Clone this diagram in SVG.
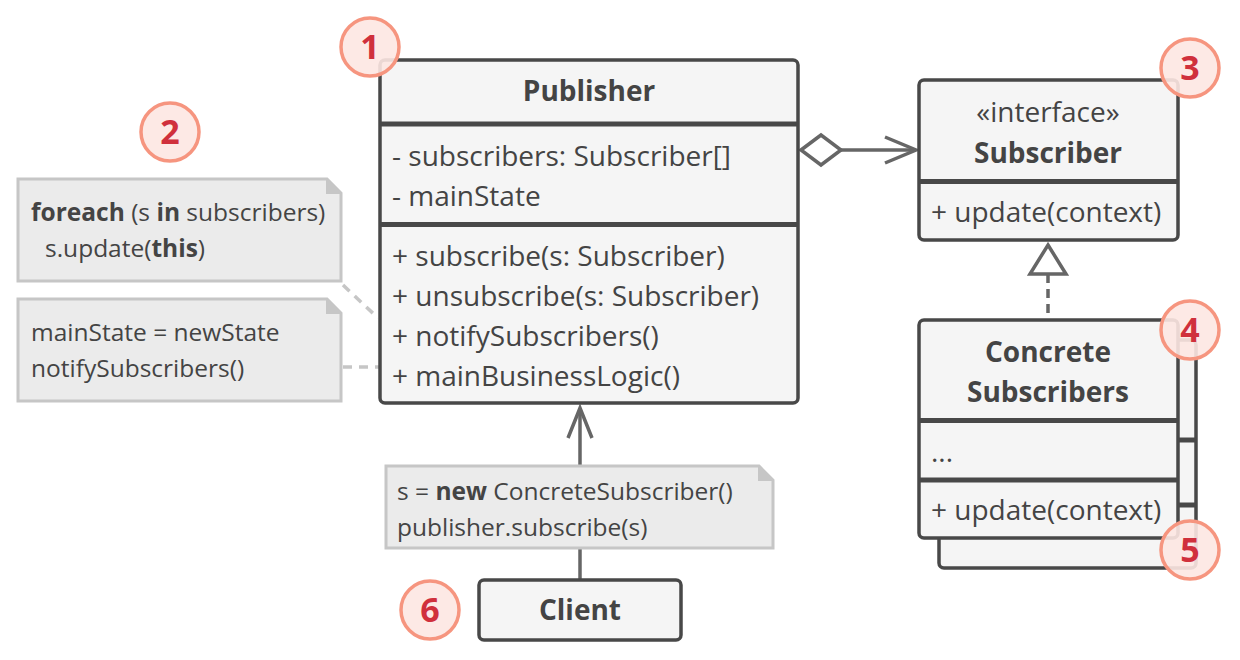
<svg xmlns="http://www.w3.org/2000/svg" width="1240" height="660" viewBox="0 0 1240 660">
<defs>
<style>
.box{fill:#f5f5f5;stroke:#484848;stroke-width:3.5}
.sep{stroke:#484848;stroke-width:5}
.t{font-family:"Open Sans","Noto Sans",sans-serif;font-size:28px;fill:#444}
.b{font-weight:bold}
.note{fill:#ebebeb;stroke:#c6c6c6;stroke-width:3}
.nt{font-family:"Open Sans","Noto Sans",sans-serif;font-size:24.5px;fill:#444}
.con{stroke:#666;stroke-width:3.5;fill:none}
.dash{stroke:#c6c6c6;stroke-width:3.5;fill:none;stroke-dasharray:9 7}
.badge circle{fill:#fde7e2;stroke:#f6957f;stroke-width:3.5;fill-opacity:0.9}
.badge text{font-family:"Open Sans","Noto Sans",sans-serif;font-size:34px;font-weight:bold;fill:#d0303c;text-anchor:middle}
</style>
</defs>
<rect width="1240" height="660" fill="#fff"/>

<g id="connectors">
<line class="dash" x1="343" y1="285" x2="378" y2="318"/>
<line class="dash" x1="343" y1="367" x2="380" y2="367"/>
<line class="con" x1="580" y1="580" x2="580" y2="408"/>
<polyline class="con" points="568,438 580,408 592,438"/>
<polygon points="801,150 821,135 841,150 821,165" fill="#fff" stroke="#666" stroke-width="3.5"/>
<line class="con" x1="841" y1="150" x2="916" y2="150"/>
<polyline class="con" points="885,137 916,150 885,163"/>
<line class="con" x1="1048" y1="274" x2="1048" y2="320" stroke-dasharray="9 6"/>
<polygon points="1048,245 1066,274 1030,274" fill="#fff" stroke="#666" stroke-width="3.5"/>
</g>

<g id="publisher">
<rect class="box" x="380" y="60" width="418" height="343" rx="5"/>
<line class="sep" x1="380" y1="124" x2="798" y2="124"/>
<line class="sep" x1="380" y1="224.5" x2="798" y2="224.5"/>
<text class="t b" x="589" y="101" text-anchor="middle">Publisher</text>
<text class="t" x="392" y="166">- subscribers: Subscriber[]</text>
<text class="t" x="392" y="206">- mainState</text>
<text class="t" x="392" y="266">+ subscribe(s: Subscriber)</text>
<text class="t" x="392" y="306">+ unsubscribe(s: Subscriber)</text>
<text class="t" x="392" y="346">+ notifySubscribers()</text>
<text class="t" x="392" y="386">+ mainBusinessLogic()</text>
</g>

<g id="subscriber">
<rect class="box" x="919" y="80" width="259" height="160" rx="5"/>
<line class="sep" x1="919" y1="181.5" x2="1178" y2="181.5"/>
<text class="t" x="1048" y="122" text-anchor="middle">«interface»</text>
<text class="t b" x="1048" y="163" text-anchor="middle">Subscriber</text>
<text class="t" x="931" y="222">+ update(context)</text>
</g>

<g id="concrete-subscribers">
<rect class="box" x="939" y="340" width="257" height="228" rx="5"/>
<line class="sep" x1="1178" y1="440" x2="1196" y2="440"/>
<line class="sep" x1="1178" y1="505" x2="1196" y2="505"/>
<rect class="box" x="919" y="320" width="259" height="218" rx="5"/>
<line class="sep" x1="919" y1="420.5" x2="1178" y2="420.5"/>
<line class="sep" x1="919" y1="480" x2="1178" y2="480"/>
<text class="t b" x="1048" y="362" text-anchor="middle">Concrete</text>
<text class="t b" x="1048" y="402" text-anchor="middle">Subscribers</text>
<text class="t" x="931" y="462">...</text>
<text class="t" x="931" y="520">+ update(context)</text>
</g>

<g id="note-notify">
<path class="note" d="M18,179 H327 L341,193 V281 H18 Z"/>
<path d="M327,179 V193 H341" fill="#c6c6c6" stroke="#c6c6c6" stroke-width="2"/>
<text class="nt" x="31" y="221"><tspan class="b">foreach</tspan> (s <tspan class="b">in</tspan> subscribers)</text>
<text class="nt" x="45" y="257">s.update(<tspan class="b">this</tspan>)</text>
</g>

<g id="note-logic">
<path class="note" d="M18,299 H327 L341,313 V401 H18 Z"/>
<path d="M327,299 V313 H341" fill="#c6c6c6" stroke="#c6c6c6" stroke-width="2"/>
<text class="nt" x="31" y="341">mainState = newState</text>
<text class="nt" x="31" y="377">notifySubscribers()</text>
</g>

<g id="note-client">
<path class="note" d="M386,466 H759 L773,480 V548 H386 Z"/>
<path d="M759,466 V480 H773" fill="#c6c6c6" stroke="#c6c6c6" stroke-width="2"/>
<text class="nt" x="397" y="500">s = <tspan class="b">new</tspan> ConcreteSubscriber()</text>
<text class="nt" x="397" y="536">publisher.subscribe(s)</text>
</g>

<g id="client">
<rect class="box" x="479" y="580" width="202" height="60" rx="5"/>
<text class="t b" x="580" y="620" text-anchor="middle">Client</text>
</g>

<g id="badge-1" class="badge"><circle cx="370" cy="47" r="29"/><text x="370" y="59">1</text></g>
<g id="badge-2" class="badge"><circle cx="170" cy="132" r="29"/><text x="170" y="144">2</text></g>
<g id="badge-3" class="badge"><circle cx="1190" cy="68" r="29"/><text x="1190" y="80">3</text></g>
<g id="badge-4" class="badge"><circle cx="1190" cy="330" r="29"/><text x="1190" y="342">4</text></g>
<g id="badge-5" class="badge"><circle cx="1190" cy="550" r="29"/><text x="1190" y="562">5</text></g>
<g id="badge-6" class="badge"><circle cx="430" cy="610" r="29"/><text x="430" y="622">6</text></g>
</svg>
